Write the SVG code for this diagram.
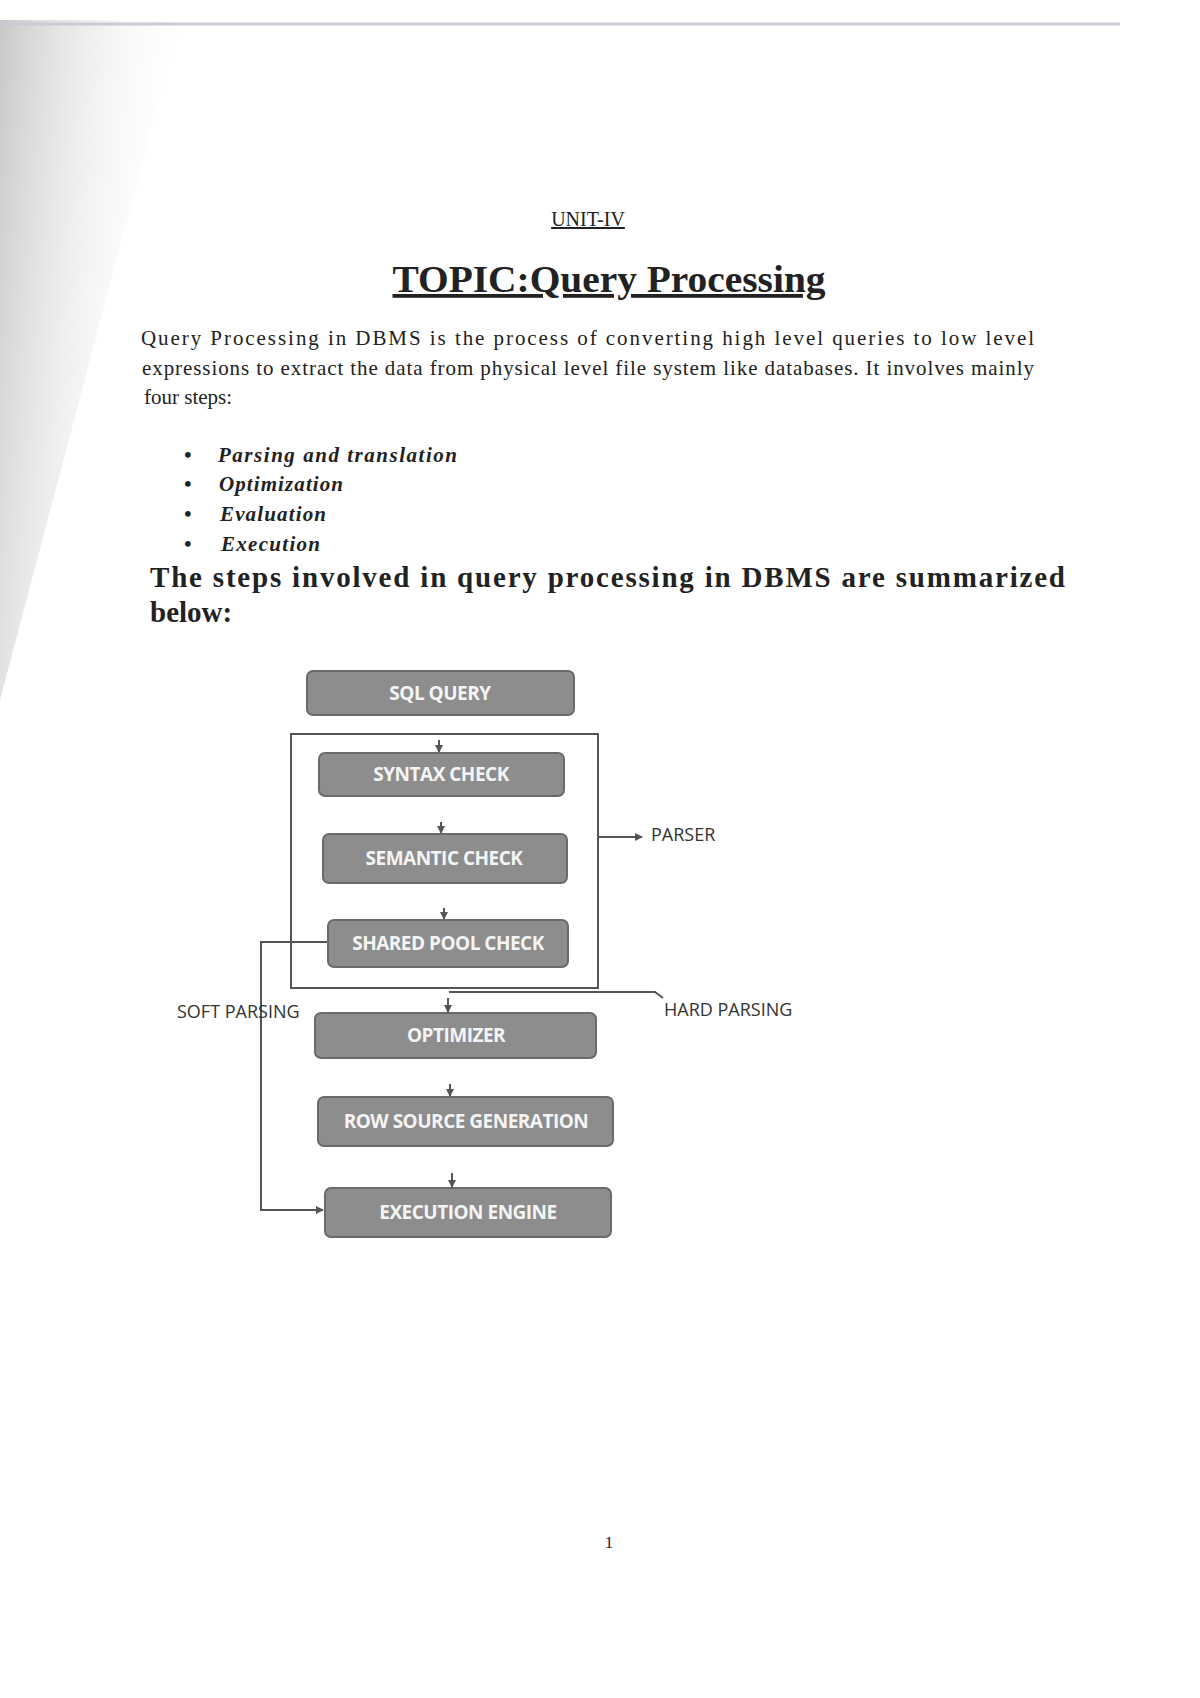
<svg xmlns="http://www.w3.org/2000/svg" width="1200" height="1698" viewBox="0 0 1200 1698">
<style>
.ser{font-family:"Liberation Serif",serif;fill:#222}
.box rect{fill:#8d8d8d;stroke:#6a6a6a;stroke-width:2}
.box text{font-family:"Open Sans","Liberation Sans",sans-serif;font-weight:bold;font-size:19px;fill:#f4f4f4;text-anchor:middle;letter-spacing:-0.5px}
.lbl{font-family:"Open Sans","Liberation Sans",sans-serif;font-size:18px;fill:#333}
.ln{fill:none;stroke:#555;stroke-width:2}
</style>
<defs>
<linearGradient id="sh" x1="0" y1="0" x2="1" y2="0.3"><stop offset="0" stop-color="#c8c8c8"/><stop offset="1" stop-color="#fff" stop-opacity="0"/></linearGradient>
<marker id="ah" markerWidth="8" markerHeight="8" refX="7" refY="4" orient="auto" markerUnits="userSpaceOnUse"><path d="M0,0 L8,4 L0,8 z" fill="#555"/></marker>
</defs>
<rect width="1200" height="1698" fill="#fff"/>
<polygon points="0,20 180,20 0,700" fill="url(#sh)"/>
<line x1="0" y1="24" x2="1120" y2="24" stroke="#c8ccd4" stroke-width="3"/>
<g id="header">
<text class="ser" x="588" y="226" font-size="20" text-anchor="middle" text-decoration="underline">UNIT-IV</text>
<text class="ser" x="609" y="292" font-size="38" font-weight="bold" text-anchor="middle" text-decoration="underline" textLength="433" lengthAdjust="spacingAndGlyphs">TOPIC:Query Processing</text>
<text class="ser" x="141" y="345" font-size="21" textLength="893" lengthAdjust="spacing">Query Processing in DBMS is the process of converting high level queries to low level</text>
<text class="ser" x="142" y="375" font-size="21" textLength="892" lengthAdjust="spacing">expressions to extract the data from physical level file system like databases. It involves mainly</text>
<text class="ser" x="144" y="404" font-size="21">four steps:</text>
<g font-size="21" font-style="italic" font-weight="bold" class="ser">
<text x="184" y="462">•</text><text x="218" y="462" textLength="239" lengthAdjust="spacing">Parsing and translation</text>
<text x="184" y="491">•</text><text x="219" y="491" textLength="124" lengthAdjust="spacing">Optimization</text>
<text x="184" y="521">•</text><text x="220" y="521" textLength="106" lengthAdjust="spacing">Evaluation</text>
<text x="184" y="551">•</text><text x="221" y="551" textLength="99" lengthAdjust="spacing">Execution</text>
</g>
<text class="ser" x="150" y="587" font-size="29" font-weight="bold" textLength="915" lengthAdjust="spacing">The steps involved in query processing in DBMS are summarized</text>
<text class="ser" x="150" y="622" font-size="29" font-weight="bold">below:</text>
</g>
<g id="connectors">
<rect x="291" y="734" width="307" height="254" class="ln"/>
<line x1="439" y1="740" x2="439" y2="752" class="ln" marker-end="url(#ah)"/>
<line x1="441" y1="822" x2="441" y2="833" class="ln" marker-end="url(#ah)"/>
<line x1="444" y1="908" x2="444" y2="919" class="ln" marker-end="url(#ah)"/>
<line x1="448" y1="998" x2="448" y2="1012" class="ln" marker-end="url(#ah)"/>
<line x1="450" y1="1084" x2="450" y2="1096" class="ln" marker-end="url(#ah)"/>
<line x1="452" y1="1173" x2="452" y2="1187" class="ln" marker-end="url(#ah)"/>
<line x1="598" y1="837" x2="642" y2="837" class="ln" marker-end="url(#ah)"/>
<path d="M449,992 L655,992 L663,998" class="ln"/>
<path d="M327,942 L261,942 L261,1210 L323,1210" class="ln" marker-end="url(#ah)"/>
</g>
<g id="labels">
<text class="lbl" x="651" y="841">PARSER</text>
<text class="lbl" x="664" y="1016">HARD PARSING</text>
<text class="lbl" x="177" y="1018">SOFT PARSING</text>
</g>
<g id="sql" class="box"><rect x="307" y="671" width="267" height="44" rx="6"/><text x="440" y="700">SQL QUERY</text></g>
<g id="syntax" class="box"><rect x="319" y="753" width="245" height="43" rx="6"/><text x="441" y="781">SYNTAX CHECK</text></g>
<g id="semantic" class="box"><rect x="323" y="834" width="244" height="49" rx="6"/><text x="444" y="865">SEMANTIC CHECK</text></g>
<g id="shared" class="box"><rect x="328" y="920" width="240" height="47" rx="6"/><text x="448" y="950">SHARED POOL CHECK</text></g>
<g id="optimizer" class="box"><rect x="315" y="1013" width="281" height="45" rx="6"/><text x="456" y="1042">OPTIMIZER</text></g>
<g id="rowsource" class="box"><rect x="318" y="1097" width="295" height="49" rx="6"/><text x="466" y="1128">ROW SOURCE GENERATION</text></g>
<g id="engine" class="box"><rect x="325" y="1188" width="286" height="49" rx="6"/><text x="468" y="1219">EXECUTION ENGINE</text></g>
<text class="ser" x="609" y="1548" font-size="17" text-anchor="middle">1</text>
</svg>
